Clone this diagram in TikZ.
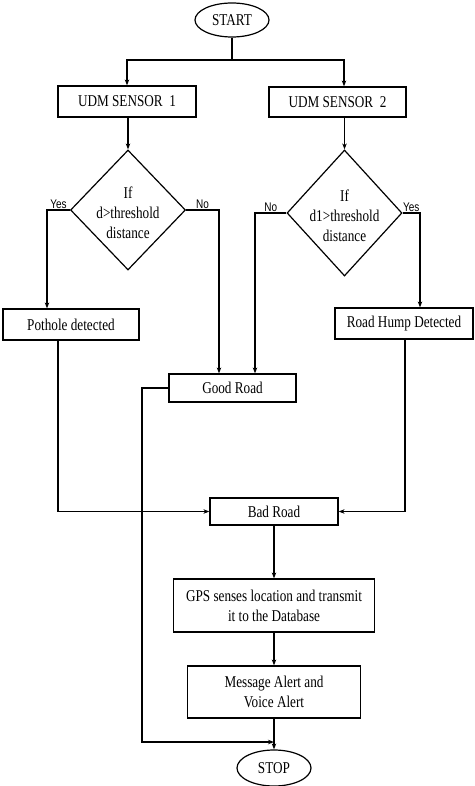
\documentclass[tikz,border=0pt]{standalone}
\usepackage{fontspec}
\setmainfont{Liberation Serif}[FakeStretch=0.8]
\newfontfamily\lblfont{Liberation Sans}[FakeStretch=0.8]
\usetikzlibrary{shapes.geometric,arrows.meta}

\begin{document}
\begin{tikzpicture}[x=1pt, y=-1pt, line width=1.2pt, font=\fontsize{16.5}{20}\selectfont,
    >={Stealth[length=6pt,width=4.5pt]},
    box/.style={draw, rectangle, inner sep=0pt, align=center},
    term/.style={draw, ellipse, inner sep=0pt, minimum width=74pt},
    dec/.style={draw, diamond, inner sep=0pt, minimum width=115pt},
    lbl/.style={font=\lblfont\fontsize{12.5}{14}\selectfont, inner sep=1pt}]
  \useasboundingbox (0,0) rectangle (474,786);
  \node[term, minimum height=34pt] (start) at (232,20) {START};
  \node[box, minimum width=138pt, minimum height=31pt] (s1) at (127,101.5) {UDM SENSOR\ \ 1};
  \node[box, minimum width=137pt, minimum height=30pt] (s2) at (337.5,102) {UDM SENSOR\ \ 2};
  \node[dec, minimum height=120pt, label={[align=center, yshift=-3pt]center:If\\d>threshold\\distance}] (d1) at (128,210) {};
  \node[dec, minimum height=126pt, label={[align=center, yshift=-3pt]center:If\\d1>threshold\\distance}] (d2) at (344.5,213) {};
  \node[box, minimum width=136pt, minimum height=31pt] (pot) at (71,324.5) {Pothole detected};
  \node[box, minimum width=138pt, minimum height=31pt] (hump) at (404,323.5) {Road Hump Detected};
  \node[box, minimum width=127pt, minimum height=28pt] (good) at (232.5,388) {Good Road};
  \node[box, minimum width=128pt, minimum height=27pt] (bad) at (274,511.5) {Bad Road};
  \node[box, minimum width=201pt, minimum height=53pt] (gps) at (274,605.5) {GPS senses location and transmit\\it to the Database};
  \node[box, minimum width=173pt, minimum height=52pt] (msg) at (274,692) {Message Alert and\\Voice Alert};
  \node[term, minimum height=36pt] (stop) at (274,768) {STOP};
  \coordinate (split) at (232,60);
  \coordinate (loop) at (142,742);
  \coordinate (merge) at (274,742);
  \draw (start) -- (split);
  \draw[->] (split) -| (s1);
  \draw[->] (split) -| ([xshift=6.5pt]s2.north);
  \draw[->] (s1.south -| d1.north) -- (d1.north);
  \draw[->] (s2.south -| d2.north) -- (d2.north);
  \draw[->] (d1.west) -| ([xshift=-24pt]pot.north) node[lbl, above, pos=.25] {Yes};
  \draw[->] (d1.east) -| ([xshift=-13.5pt]good.north) node[lbl, above, pos=.25] {No};
  \draw[->] (d2.west) -| ([xshift=22.5pt]good.north) node[lbl, above, pos=.25] {No};
  \draw[->] (d2.east) -| ([xshift=16pt]hump.north) node[lbl, above, pos=.25] {Yes};
  \draw[->] ([xshift=-13pt]pot.south) |- (bad.west);
  \draw[->] ([xshift=1pt]hump.south) |- (bad.east);
  \draw[->] (good.west) -| (loop) -- (merge);
  \draw[->] (bad) -- (gps);
  \draw[->] (gps) -- (msg);
  \draw[->] (msg) -- (stop);
\end{tikzpicture}
\end{document}
